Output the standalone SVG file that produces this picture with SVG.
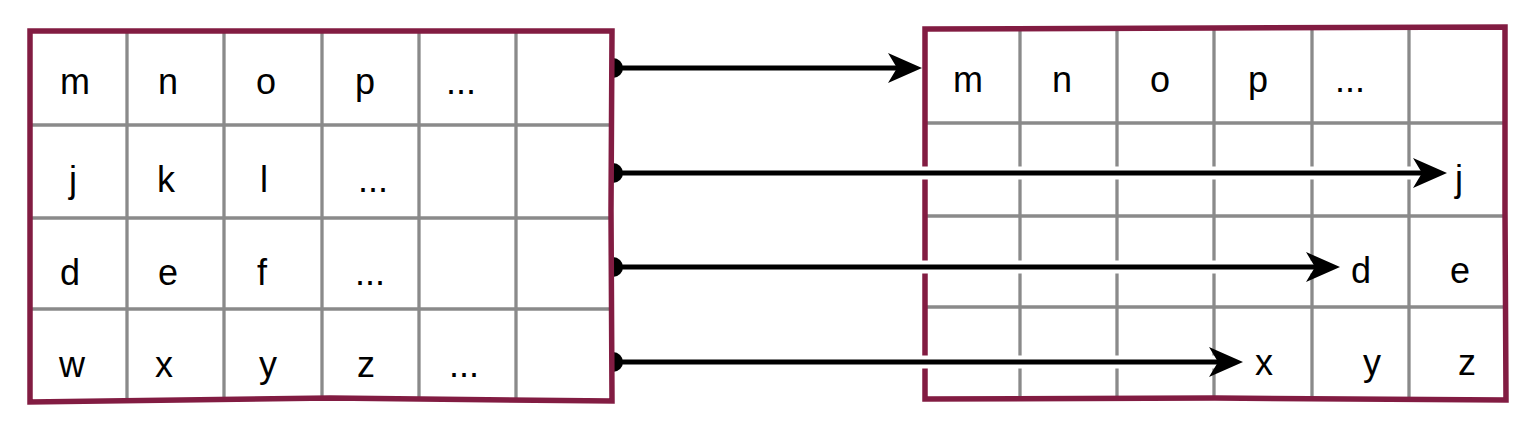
<svg xmlns="http://www.w3.org/2000/svg" width="1536" height="423" viewBox="0 0 1536 423">
<style>
.bg{fill:#ffffff;stroke:none}
.grid{stroke:#8a8a8a;stroke-width:3.3;fill:none}
.border{stroke:#821c42;stroke-width:5.5;fill:none;stroke-linejoin:miter}
.t{font-family:"Liberation Sans",Arial,sans-serif;font-size:36px;fill:#000;text-anchor:middle}
.halo{stroke:#ffffff;stroke-width:13;fill:none}
.conn{stroke:#000;stroke-width:5;fill:none;marker-start:url(#dot);marker-end:url(#arrow)}
</style>
<defs>
<marker id="arrow" markerUnits="userSpaceOnUse" viewBox="-35 -16 36 32" markerWidth="36" markerHeight="32" refX="-20" refY="0" orient="auto" overflow="visible">
<path d="M0,0 L-34,-15 L-25,0 L-34,15 Z" fill="#000"/>
</marker>
<marker id="dot" markerUnits="userSpaceOnUse" viewBox="-11 -11 22 22" markerWidth="22" markerHeight="22" refX="0" refY="0" orient="auto" overflow="visible">
<circle cx="0" cy="0" r="10" fill="#000"/>
</marker>
</defs>

<g id="right-grid">
<rect class="bg" x="925" y="28" width="580" height="371"/>
<path class="grid" d="M1020,28V399 M1117,28V399 M1214,28V399 M1312,28V399 M1409,28V399 M925,123H1505 M925,216H1505 M925,307H1505"/>
<path class="border" d="M925,29 L1215,28 L1505,27 L1505,210 L1506,400 L1215,398 L925,399 Z"/>
<text class="t" x="968" y="92">m</text>
<text class="t" x="1062" y="92">n</text>
<text class="t" x="1160" y="92">o</text>
<text class="t" x="1258" y="92">p</text>
<text class="t" x="1350" y="92">...</text>
<text class="t" x="1459" y="191">j</text>
<text class="t" x="1361" y="283">d</text>
<text class="t" x="1460" y="283">e</text>
<text class="t" x="1264" y="375">x</text>
<text class="t" x="1372" y="375">y</text>
<text class="t" x="1467" y="375">z</text>
</g>

<g id="connectors">
<path class="halo" d="M613,68H897"/>
<path class="halo" d="M613,173H1422"/>
<path class="halo" d="M613,267H1315"/>
<path class="halo" d="M613,362H1218"/>
<path class="conn" d="M613,68H902"/>
<path class="conn" d="M613,173H1427"/>
<path class="conn" d="M613,267H1320"/>
<path class="conn" d="M613,362H1223"/>
</g>

<g id="left-grid">
<rect class="bg" x="30" y="31" width="581" height="370"/>
<path class="grid" d="M127,31V401 M224,31V401 M322,31V401 M419,31V401 M516,31V401 M30,125H611 M30,218H611 M30,309H611"/>
<path class="border" d="M30,31 L320,31 L612,31 L611,210 L612,401 L330,398 L30,402 Z"/>
<text class="t" x="75" y="94">m</text>
<text class="t" x="168" y="94">n</text>
<text class="t" x="266" y="94">o</text>
<text class="t" x="365" y="94">p</text>
<text class="t" x="461" y="94">...</text>
<text class="t" x="73" y="192">j</text>
<text class="t" x="166" y="192">k</text>
<text class="t" x="264" y="192">l</text>
<text class="t" x="373" y="192">...</text>
<text class="t" x="70" y="285">d</text>
<text class="t" x="168" y="285">e</text>
<text class="t" x="262" y="285">f</text>
<text class="t" x="370" y="285">...</text>
<text class="t" x="72" y="377">w</text>
<text class="t" x="164" y="377">x</text>
<text class="t" x="268" y="377">y</text>
<text class="t" x="366" y="377">z</text>
<text class="t" x="464" y="377">...</text>
</g>
</svg>
